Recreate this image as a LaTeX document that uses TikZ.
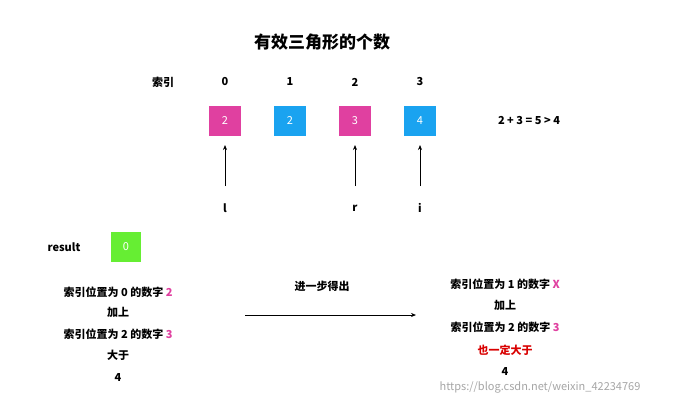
\documentclass[tikz,border=0pt]{standalone}
\usepackage{fontspec}
\usetikzlibrary{arrows.meta}
\setmainfont{Noto Sans CJK SC}
\begin{document}
\begin{tikzpicture}[x=1pt,y=-1pt,
  txt/.style={font=\bfseries\fontsize{11}{13}\selectfont,inner sep=1pt},
  cell/.style={minimum width=32pt,minimum height=30pt,inner sep=0pt,text=white,font=\fontsize{11}{13}\selectfont},
  arr/.style={-{Stealth[length=5pt,width=4pt]},line width=0.7pt}]
\definecolor{pk}{HTML}{E040A0}
\definecolor{bl}{HTML}{1AA3F0}
\definecolor{gr}{HTML}{66EE33}
\useasboundingbox[fill=white] (0,0) rectangle (688,408);
\node[txt,font=\bfseries\fontsize{17}{20}\selectfont] (title) at (322,42) {有效三角形的个数};
\node[txt] (sy) at (163,82) {索引};
\node[txt] (i0) at (225,82) {0};
\node[txt] (i1) at (290,82) {1};
\node[txt] (i2) at (355,82) {2};
\node[txt] (i3) at (420,82) {3};
\node[cell,fill=pk] (c0) at (225,121) {2};
\node[cell,fill=bl] (c1) at (290,121) {2};
\node[cell,fill=pk] (c2) at (355,121) {3};
\node[cell,fill=bl] (c3) at (420,121) {4};
\node[txt] (eq) at (529,121) {2 + 3 = 5 > 4};
\node[txt] (l) at (225,208) {l};
\node[txt] (r) at (355,208) {r};
\node[txt] (ii) at (420,208) {i};
\coordinate (a0) at (225,186); \coordinate (b0) at (225,145);
\coordinate (a2) at (355,186); \coordinate (b2) at (355,145);
\coordinate (a3) at (420,186); \coordinate (b3) at (420,145);
\draw[arr] (a0) -- (b0);
\draw[arr] (a2) -- (b2);
\draw[arr] (a3) -- (b3);
\node[txt] (res) at (64,247) {result};
\node[cell,fill=gr,minimum width=30pt] (rb) at (126,247) {0};
\node[txt] (L1) at (118,292) {索引位置为 0 的数字 \textcolor{pk}{2}};
\node[txt] (L2) at (118,312) {加上};
\node[txt] (L3) at (118,334) {索引位置为 2 的数字 \textcolor{pk}{3}};
\node[txt] (L4) at (118,355) {大于};
\node[txt] (L5) at (118,377) {4};
\node[txt] (mid) at (322,286) {进一步得出};
\coordinate (m1) at (245,315); \coordinate (m2) at (416,315);
\draw[arr] (m1) -- (m2);
\node[txt] (R1) at (505,284) {索引位置为 1 的数字 \textcolor{pk}{X}};
\node[txt] (R2) at (505,305) {加上};
\node[txt] (R3) at (505,327) {索引位置为 2 的数字 \textcolor{pk}{3}};
\node[txt,text=red!85!black] (R4) at (505,350) {也一定大于};
\node[txt] (R5) at (505,371) {4};
\node[font=\fontsize{11}{13}\selectfont,text=black!35] (wm) at (540,387) {https://blog.csdn.net/weixin\_42234769};
\end{tikzpicture}
\end{document}
